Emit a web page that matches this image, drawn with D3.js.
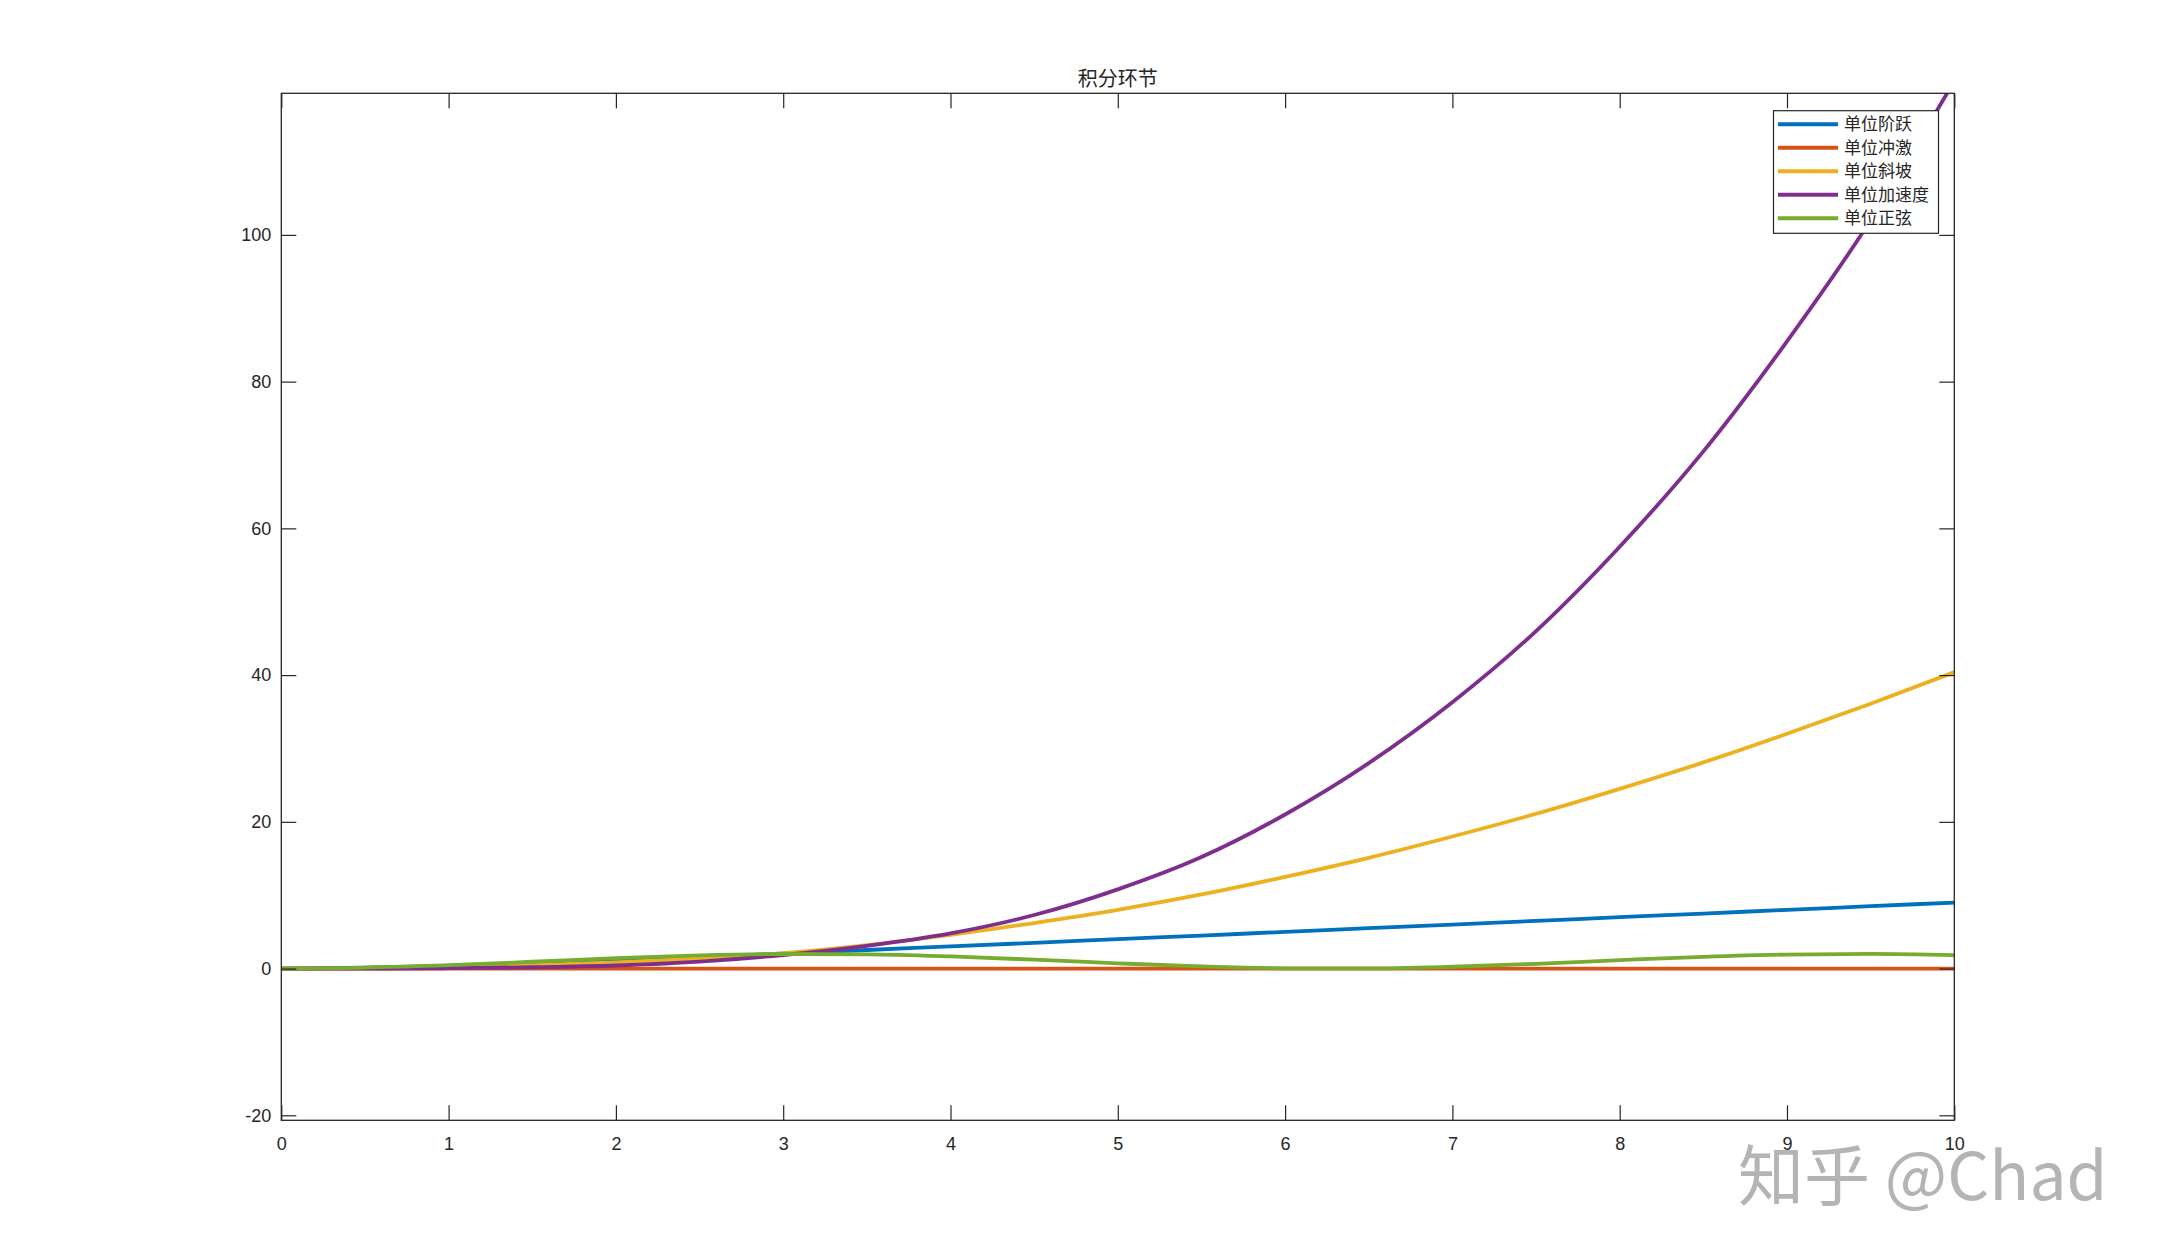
<!DOCTYPE html>
<html>
<head>
<meta charset="utf-8">
<title>积分环节</title>
<style>
body { margin: 0; background: #fff; }
.tick text { font-family: "Liberation Sans", Arial, sans-serif; font-size: 18px; fill: #262626; }
</style>
</head>
<body>
<svg width="2160" height="1260"></svg>
<script src="https://d3js.org/d3.v7.min.js"></script>
<script type="text/javascript">
// time samples (s)
var t = [0, 0.5, 1, 1.5, 2, 2.5, 3, 3.5, 4, 4.5, 5, 5.5, 6, 6.5, 7, 7.5, 8, 8.5, 9, 9.5, 10];

// responses
var stepResp = [0, 0.11, 0.37, 0.72, 1.14, 1.58, 2.05, 2.53, 3.02, 3.51, 4.01, 4.50, 5.00, 5.50, 6.00, 6.50, 7.00, 7.50, 8.00, 8.50, 9.00];
var impulseResp = [0, 0, 0, 0, 0, 0, 0, 0, 0, 0, 0, 0, 0, 0, 0, 0, 0, 0, 0, 0, 0];
var rampResp = [0, 0.02, 0.17, 0.45, 0.85, 1.4, 2.1, 3.2, 4.6, 6.2, 8.0, 10.1, 12.5, 15.1, 18.0, 21.1, 24.5, 28.1, 32.0, 36.1, 40.4];
var accelResp = [0, 0.01, 0.05, 0.18, 0.42, 0.95, 1.85, 3.1, 4.8, 7.3, 10.8, 15.2, 21.0, 28.0, 36.3, 46.0, 57.5, 70.5, 85.5, 102, 121];
var sineResp = [0, 0.12, 0.46, 0.93, 1.42, 1.80, 1.99, 1.94, 1.65, 1.21, 0.72, 0.29, 0.04, 0.02, 0.25, 0.65, 1.15, 1.60, 1.91, 2.00, 1.84];

var seriesNames = ["单位阶跃", "单位冲激", "单位斜坡", "单位加速度", "单位正弦"];
var seriesColors = ["#0072BD", "#D95319", "#EDB120", "#7E2F8E", "#77AC30"];
var xTicks = [0, 1, 2, 3, 4, 5, 6, 7, 8, 9, 10];
var yTicks = [-20, 0, 20, 40, 60, 80, 100];

var allSeries = [stepResp, impulseResp, rampResp, accelResp, sineResp];

var svg = d3.select("svg");
// plot box (window.top is taken, so prefix these)
var axL = 281.3, axR = 1954.3, axT = 93.3, axB = 1120.3;

var x = d3.scaleLinear().domain([0, 10]).range([axL, axR]);
var y = d3.scaleLinear().domain([-20.68, 119.3]).range([axB, axT]);

svg.append("defs").append("clipPath").attr("id", "plotArea")
    .append("rect")
    .attr("x", axL).attr("y", axT)
    .attr("width", axR - axL).attr("height", axB - axT);

// curves
var line = d3.line()
    .x(function(d, i) { return x(t[i]); })
    .y(function(d) { return y(d); })
    .curve(d3.curveMonotoneX);

var plot = svg.append("g").attr("clip-path", "url(#plotArea)");
allSeries.forEach(function(vals, i) {
    plot.append("path")
        .attr("d", line(vals))
        .style("fill", "none")
        .style("stroke", seriesColors[i])
        .style("stroke-width", 3.8)
        .style("stroke-linejoin", "round");
});

// axes, MATLAB style: ticks point inward on all four sides
function styleAxis(g) {
    g.select(".domain").remove();
    g.selectAll(".tick line").style("stroke", "#262626").style("stroke-width", 1.2);
}
var plainNum = function(d) { return String(d); }; // plain hyphen for -20
svg.append("g")
    .attr("transform", "translate(0," + axB + ")")
    .call(d3.axisBottom(x).tickValues(xTicks).tickSize(-15).tickPadding(17).tickFormat(plainNum))
    .call(styleAxis);
svg.append("g")
    .attr("transform", "translate(0," + axT + ")")
    .call(d3.axisTop(x).tickValues(xTicks).tickSize(-15).tickFormat(""))
    .call(styleAxis);
svg.append("g")
    .attr("transform", "translate(" + axL + ",0)")
    .call(d3.axisLeft(y).tickValues(yTicks).tickSize(-15).tickPadding(10).tickFormat(plainNum))
    .call(styleAxis);
svg.append("g")
    .attr("transform", "translate(" + axR + ",0)")
    .call(d3.axisRight(y).tickValues(yTicks).tickSize(-15).tickFormat(""))
    .call(styleAxis);
svg.selectAll(".tick text").attr("fill", "#262626");

svg.append("rect")
    .attr("x", axL).attr("y", axT)
    .attr("width", axR - axL).attr("height", axB - axT)
    .style("fill", "none")
    .style("stroke", "#262626")
    .style("stroke-width", 1.3);

// title
svg.append("text")
    .attr("x", (axL + axR) / 2)
    .attr("y", 86)
    .attr("text-anchor", "middle")
    .style("font-family", "'Noto Sans CJK SC', sans-serif")
    .style("font-size", "20px")
    .style("fill", "#262626")
    .text("积分环节");

// legend
var legend = svg.append("g");
legend.append("rect")
    .attr("x", 1773.5).attr("y", 110.7)
    .attr("width", 165).attr("height", 122.6)
    .style("fill", "#fff")
    .style("stroke", "#262626")
    .style("stroke-width", 1.2);
seriesNames.forEach(function(name, i) {
    var ly = 124.3 + i * 23.5;
    legend.append("line")
        .attr("x1", 1778).attr("x2", 1838)
        .attr("y1", ly).attr("y2", ly)
        .style("stroke", seriesColors[i])
        .style("stroke-width", 4);
    legend.append("text")
        .attr("x", 1844).attr("y", ly)
        .attr("dy", "0.36em")
        .style("font-family", "'Noto Sans CJK SC', sans-serif")
        .style("font-size", "17px")
        .style("fill", "#262626")
        .text(name);
});

// watermark
svg.append("text")
    .attr("x", 1738).attr("y", 1200)
    .style("font-family", "'Noto Sans CJK SC', sans-serif")
    .style("font-size", "66px")
    .style("fill", "#b4b4b4")
    .text("知乎 @Chad");
</script>
</body>
</html>
